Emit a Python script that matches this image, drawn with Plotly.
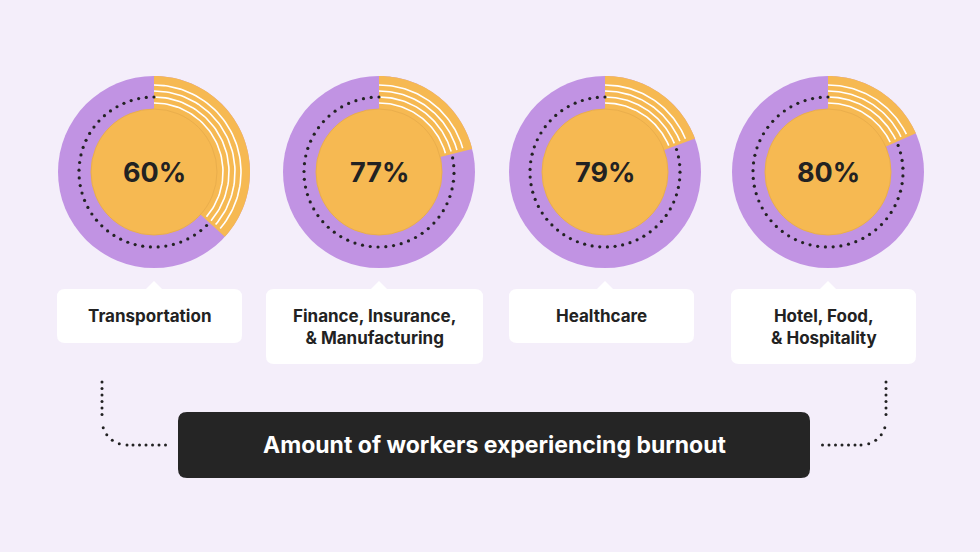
import numpy as np
import plotly.graph_objects as go

categories = ["Transportation", "Finance, Insurance,<br>& Manufacturing", "Healthcare", "Hotel, Food,<br>& Hospitality"]
values = [60, 77, 79, 80]
title_text = "Amount of workers experiencing burnout"

BG = "#f4eefa"; PURPLE = "#c193e3"; ORANGE = "#f6b952"; DARK = "#222222"
centers = [154, 379, 605, 828]
CY = 172
R_OUT, R_IN, R_DOT = 96, 63, 75
boxes = [(57, 242, 289, 343), (266, 483, 289, 364), (509, 694, 289, 343), (731, 916, 289, 364)]

def pt(cx, r, deg):
    a = np.radians(deg)
    return cx + r * np.sin(a), CY - r * np.cos(a)

def rrect(x0, x1, y0, y1, r):
    return (f"M{x0+r},{y0} L{x1-r},{y0} Q{x1},{y0} {x1},{y0+r} L{x1},{y1-r} Q{x1},{y1} {x1-r},{y1} "
            f"L{x0+r},{y1} Q{x0},{y1} {x0},{y1-r} L{x0},{y0+r} Q{x0},{y0} {x0+r},{y0} Z")

fig = go.Figure()
shapes, ann = [], []
for cx, v, cat, (bx0, bx1, by0, by1) in zip(centers, values, categories, boxes):
    shapes.append(dict(type="circle", x0=cx-R_OUT, x1=cx+R_OUT, y0=CY-R_OUT, y1=CY+R_OUT,
                       fillcolor=PURPLE, line_width=0, layer="below"))
    end = (100 - v) / 100 * 360 * 0.92
    angs = np.linspace(0, end, 60)
    outer = [pt(cx, R_OUT, a) for a in angs]
    inner = [pt(cx, R_IN - 2, a) for a in angs[::-1]]
    path = "M" + " L".join(f"{x:.1f},{y:.1f}" for x, y in outer + inner) + " Z"
    shapes.append(dict(type="path", path=path, fillcolor=ORANGE, line_width=0, layer="below"))
    shapes.append(dict(type="circle", x0=cx-R_IN, x1=cx+R_IN, y0=CY-R_IN, y1=CY+R_IN,
                       fillcolor=ORANGE, line=dict(color="#eaae4c", width=1), layer="below"))
    for r in [69, 75, 81, 87]:
        a2 = np.linspace(0, end - 2, 60)
        p = [pt(cx, r, a) for a in a2]
        fig.add_trace(go.Scatter(x=[q[0] for q in p], y=[q[1] for q in p], mode="lines",
                                 line=dict(color="white", width=1.6), hoverinfo="skip", showlegend=False))
    n = int((360 - end) / 5.8)
    da = np.linspace(end + 3, 360, n)
    p = [pt(cx, R_DOT, a) for a in da]
    fig.add_trace(go.Scatter(x=[q[0] for q in p], y=[q[1] for q in p], mode="markers",
                             marker=dict(color=DARK, size=3.2), hoverinfo="skip", showlegend=False))
    ann.append(dict(x=cx, y=CY, text=f"<b>{v}%</b>", showarrow=False,
                    font=dict(family="Inter", size=27, color=DARK)))
    shapes.append(dict(type="path", path=rrect(bx0, bx1, by0, by1, 8), fillcolor="white", line_width=0, layer="below"))
    shapes.append(dict(type="path", path=f"M{cx-9},{by0+1} L{cx},{by0-8} L{cx+9},{by0+1} Z",
                       fillcolor="white", line_width=0, layer="below"))
    ann.append(dict(x=(bx0+bx1)/2, y=(by0+by1)/2, text=f"<b>{cat}</b>", showarrow=False,
                    font=dict(family="Inter", size=17, color=DARK), align="center"))

shapes.append(dict(type="path", path=rrect(178, 810, 412, 478, 9), fillcolor="#252525", line_width=0, layer="below"))
ann.append(dict(x=494, y=445, text=f"<b>{title_text}</b>", showarrow=False,
                font=dict(family="Inter", size=23, color="white")))

for sx, ex in [(102, 170), (886, 818)]:
    pts = []
    for y in np.arange(382, 420, 6.5):
        pts.append((sx, y))
    sgn = 1 if ex > sx else -1
    for a in np.linspace(0, 90, 6)[1:]:
        pts.append((sx + sgn*25*(1-np.cos(np.radians(a))), 420 + 25*np.sin(np.radians(a))))
    x = sx + sgn*31
    while (ex - x) * sgn > 0:
        pts.append((x, 445)); x += sgn*6.5
    fig.add_trace(go.Scatter(x=[p[0] for p in pts], y=[p[1] for p in pts], mode="markers",
                             marker=dict(color=DARK, size=3), hoverinfo="skip", showlegend=False))

fig.update_layout(width=980, height=552, autosize=False, margin=dict(l=0, r=0, t=0, b=0),
                  paper_bgcolor=BG, plot_bgcolor=BG, shapes=shapes, annotations=ann,
                  xaxis=dict(range=[0, 980], visible=False, fixedrange=True),
                  yaxis=dict(range=[552, 0], visible=False, fixedrange=True))
fig.write_html("out.html", config={"displayModeBar": False},
               post_script="document.body.style.margin='0';document.body.style.padding='0';document.body.style.background='#f4eefa';document.body.style.overflow='hidden';")
